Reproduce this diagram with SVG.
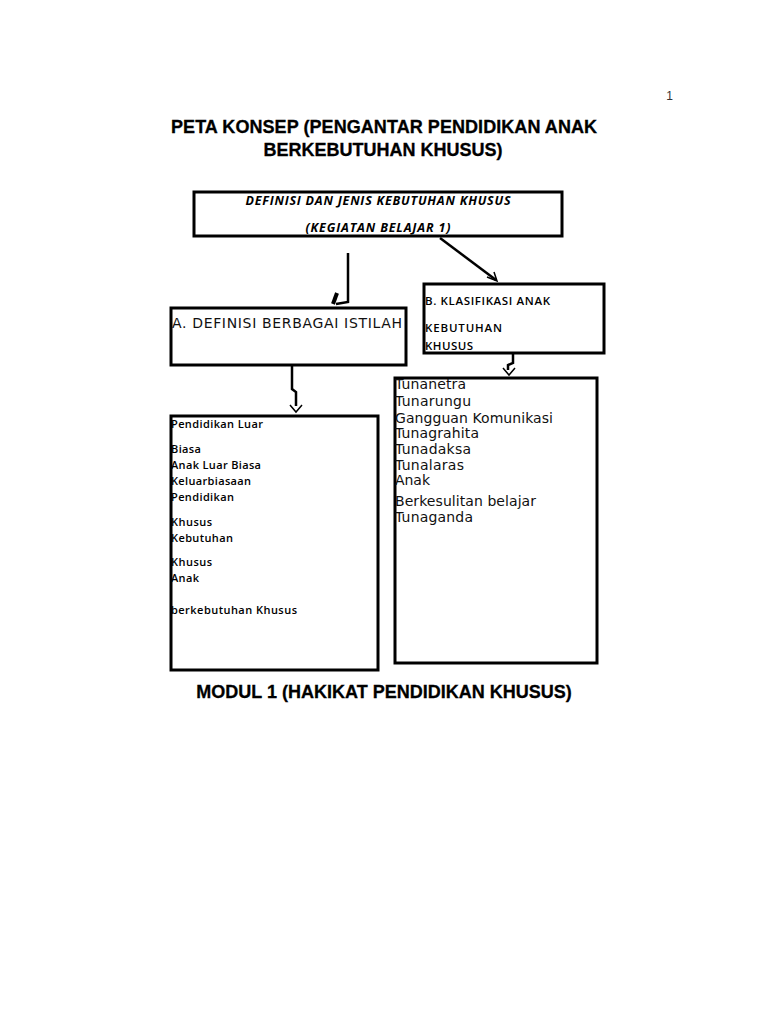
<svg xmlns="http://www.w3.org/2000/svg" width="768" height="1024" viewBox="0 0 768 1024">
<style>
.box{fill:#fff;stroke:#000;stroke-width:3}
.title{font-family:"Liberation Sans",Arial,sans-serif;font-weight:bold;font-size:18px;fill:#000;text-anchor:middle;stroke:#000;stroke-width:0.3}
.top{font-family:"Open Sans","DejaVu Sans",sans-serif;font-weight:bold;font-style:italic;font-size:12.5px;fill:#000;text-anchor:middle}
.thin{font-family:"DejaVu Sans",sans-serif;font-size:14px;fill:#111}
.semi{font-family:"Open Sans","DejaVu Sans",sans-serif;font-weight:600;font-size:11.5px;fill:#000}
.list{font-family:"Open Sans","DejaVu Sans",sans-serif;font-weight:600;font-size:11px;fill:#000}
.con{fill:none;stroke:#000;stroke-width:2.5;stroke-linejoin:miter}
.head{fill:none;stroke:#000;stroke-width:1.5}
</style>
<rect width="768" height="1024" fill="#fff"/>
<text x="673" y="100" font-family="Liberation Sans,Arial,sans-serif" font-size="12" text-anchor="end" fill="#333">1</text>
<text class="title" x="384" y="133" textLength="426">PETA KONSEP (PENGANTAR PENDIDIKAN ANAK</text>
<text class="title" x="383" y="156">BERKEBUTUHAN KHUSUS)</text>

<g id="connectors">
  <path class="con" d="M348 253 V302 L336 304"/>
  <path d="M333 304 L337 293" stroke="#000" stroke-width="4" fill="none"/>
  <path class="con" d="M440 238 L496 280"/>
  <path class="head" d="M487 277 L497 281 L494 272"/>
  <path class="con" d="M292 366 V389 L296 392 V406"/>
  <path class="head" d="M290 405 L296 412 L302 405"/>
  <path class="con" d="M513 354 V363 L508 365 V370"/>
  <path class="head" d="M503 368 L509 375 L515 368"/>
</g>

<g id="node-top">
  <rect class="box" x="194" y="192" width="368" height="44"/>
  <text class="top" x="378" y="205" textLength="265">DEFINISI DAN JENIS KEBUTUHAN KHUSUS</text>
  <text class="top" x="378" y="232" textLength="145">(KEGIATAN BELAJAR 1)</text>
</g>

<g id="node-a">
  <rect class="box" x="171" y="308" width="235" height="57"/>
  <text class="thin" x="172" y="328" font-size="14.5" textLength="230">A. DEFINISI BERBAGAI ISTILAH</text>
</g>

<g id="node-b">
  <rect class="box" x="424" y="284" width="180" height="69"/>
  <text class="semi" x="425" y="305" textLength="125">B. KLASIFIKASI ANAK</text>
  <text class="semi" x="425" y="332" textLength="77">KEBUTUHAN</text>
  <text class="semi" x="425" y="350" textLength="48">KHUSUS</text>
</g>

<g id="node-istilah">
  <rect class="box" x="171" y="416" width="207" height="254"/>
  <g class="list">
    <text x="171" y="428" textLength="92">Pendidikan Luar</text>
    <text x="171" y="453" textLength="30">Biasa</text>
    <text x="171" y="469" textLength="90">Anak Luar Biasa</text>
    <text x="171" y="485" textLength="80">Keluarbiasaan</text>
    <text x="171" y="501" textLength="63">Pendidikan</text>
    <text x="171" y="526" textLength="41">Khusus</text>
    <text x="171" y="542" textLength="62">Kebutuhan</text>
    <text x="171" y="566" textLength="41">Khusus</text>
    <text x="171" y="582" textLength="28">Anak</text>
    <text x="171" y="614" textLength="126">berkebutuhan Khusus</text>
  </g>
</g>

<g id="node-klasifikasi">
  <rect class="box" x="395" y="378" width="202" height="285"/>
  <g class="thin">
    <text x="395" y="389" textLength="71">Tunanetra</text>
    <text x="395" y="406" textLength="76">Tunarungu</text>
    <text x="395" y="423" textLength="158">Gangguan Komunikasi</text>
    <text x="395" y="438" textLength="84">Tunagrahita</text>
    <text x="395" y="454" textLength="76">Tunadaksa</text>
    <text x="395" y="470" textLength="69">Tunalaras</text>
    <text x="395" y="485" textLength="35">Anak</text>
    <text x="395" y="506" textLength="141">Berkesulitan belajar</text>
    <text x="395" y="522" textLength="78">Tunaganda</text>
  </g>
</g>

<text class="title" x="384" y="698">MODUL 1 (HAKIKAT PENDIDIKAN KHUSUS)</text>
</svg>
